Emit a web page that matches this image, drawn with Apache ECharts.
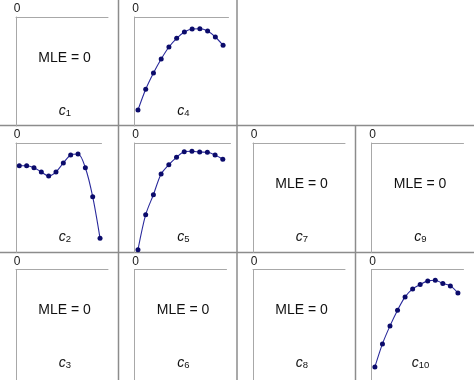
<!DOCTYPE html>
<html><head><meta charset="utf-8">
<script src="https://cdn.jsdelivr.net/npm/echarts@6/dist/echarts.min.js"></script>
<style>html,body{margin:0;padding:0;background:#fff}#c{width:474px;height:380px}</style>
</head><body><div id="c"></div>
<script>
// ---- data ----
const xSteps = [1,2,3,4,5,6,7,8,9,10,11,12];
const c2Values = [-22.7,-22.7,-24.7,-29,-33,-29,-20,-12,-11,-24.7,-53.7,-95.3];
const c4Values = [-93,-72.3,-56,-42,-30,-21.3,-15,-12,-11.7,-14,-20,-28.3];
const c5Values = [-106.7,-71.7,-51.7,-31,-21.7,-14.3,-8.7,-8.3,-9,-9.3,-12,-16.3];
const c10Values = [-97.4,-74.4,-56.4,-40.7,-27.4,-19.4,-15,-11.4,-10.7,-14,-16.4,-23.4];
const panelNames = ['1','4','2','5','7','9','3','6','8','10'];
const panelValues = {'2': c2Values, '4': c4Values, '5': c5Values, '10': c10Values};
const topTickLabel = '0';
const emptyText = 'MLE = 0';

// ---- layout ----
const colX = [0, 118.5, 237, 355.5];
const rowY = [0, 126, 252.5];
const rowBottom = [126, 252.5, 380];
const cellOf = {'1':[0,0],'4':[0,1],'2':[1,0],'5':[1,1],'7':[1,2],'9':[1,3],'3':[2,0],'6':[2,1],'8':[2,2],'10':[2,3]};
const widthOf = {'2':85.5,'4':94,'5':96,'10':92};
const xMaxOf = {'2':12.2,'4':12.7,'5':13.0,'10':12.74};

const grids=[], xAxes=[], yAxes=[], series=[], graphics=[];
const axisColor = '#a8a8a8';
panelNames.forEach((name, i) => {
  const [r, c] = cellOf[name];
  const left = colX[c] + 16, top = rowY[r] + 17;
  const height = rowBottom[r] - top;
  const width = widthOf[name] || 92;
  grids.push({left: left, top: top, width: width, height: height, containLabel: false});
  xAxes.push({type:'value', gridIndex:i, position:'top', min:0.55, max: xMaxOf[name] || 12.7,
    axisLine:{show:true, onZero:false, lineStyle:{color:axisColor, width:1}},
    axisTick:{show:false}, axisLabel:{show:false}, splitLine:{show:false}});
  yAxes.push({type:'value', gridIndex:i, min:-height, max:0,
    name: topTickLabel, nameLocation:'end', nameGap:2,
    nameTextStyle:{color:'#1a1a1a', fontSize:12, fontFamily:'Liberation Sans, Arial', align:'center', verticalAlign:'bottom', padding:[0,0,0,2]},
    axisLine:{show:true, onZero:false, lineStyle:{color:axisColor, width:1}},
    axisTick:{show:false}, axisLabel:{show:false}, splitLine:{show:false}});
  const vals = panelValues[name];
  if (vals) {
    series.push({type:'line', xAxisIndex:i, yAxisIndex:i,
      data: xSteps.map((x, k) => [x, vals[k]]),
      smooth:0.3, symbol:'circle', symbolSize:5, showSymbol:true,
      lineStyle:{color:'#2a2a9c', width:1.1},
      itemStyle:{color:'#0b0b6b'}, animation:false, z:3});
  } else {
    graphics.push({type:'text', x: colX[c] + 64.5, y: rowY[r] + 58,
      style:{text: emptyText, fill:'#111', font:'14px "Liberation Sans", Arial', align:'center', verticalAlign:'middle'}});
  }
  graphics.push({type:'text', x: colX[c] + 65, y: rowY[r] + 110,
    style:{text: '{c|c}{s|' + name + '}', align:'center', verticalAlign:'middle',
      rich:{c:{fontSize:14, fontStyle:'italic', fontFamily:'Liberation Sans, Arial', fill:'#111', verticalAlign:'bottom', lineHeight:16},
            s:{fontSize:9.5, fontFamily:'Liberation Sans, Arial', fill:'#111', verticalAlign:'bottom', lineHeight:13}}}});
});

// cell borders
const borderStyle = {stroke:'#8c8c8c', lineWidth:1.5};
[[0,125.5,474,125.5],[0,252.5,474,252.5],[118.5,0,118.5,380],[237,0,237,380],[355.5,126,355.5,380]].forEach(l => {
  graphics.push({type:'line', shape:{x1:l[0], y1:l[1], x2:l[2], y2:l[3]}, style:borderStyle, z:0});
});

const chart = echarts.init(document.getElementById('c'), null, {renderer:'canvas'});
chart.setOption({animation:false, grid:grids, xAxis:xAxes, yAxis:yAxes, series:series, graphic:graphics});
</script></body></html>
